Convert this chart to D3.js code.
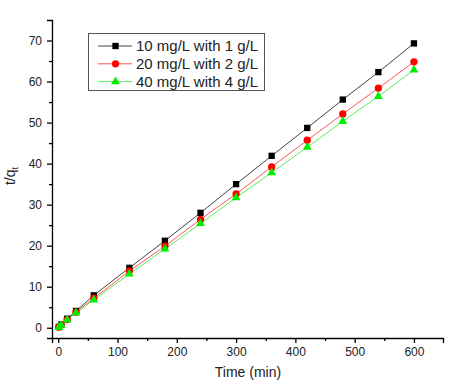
<!DOCTYPE html>
<html>
<head>
<meta charset="utf-8">
<script src="https://cdn.jsdelivr.net/npm/d3@7"></script>
<style>
  body { margin: 0; background: #fff; }
  text { font-family: "Liberation Sans", Arial, sans-serif; fill: #222; }
</style>
</head>
<body>
<div id="chart"></div>
<script>
// data
var times = [1, 5, 15, 30, 60, 120, 180, 240, 300, 360, 420, 480, 540, 600]
var black10 = [0.2, 0.8, 2.2, 4.1, 7.9, 14.6, 21.2, 28.0, 35.0, 41.9, 48.7, 55.6, 62.3, 69.3]
var red20 = [0.15, 0.7, 2.0, 3.8, 7.2, 13.8, 19.9, 26.4, 32.6, 39.2, 45.7, 52.1, 58.4, 64.8]
var green40 = [0.1, 0.6, 1.9, 3.6, 6.8, 13.1, 19.2, 25.4, 31.7, 37.8, 44.0, 50.3, 56.4, 62.8]
var seriesNames = ["10 mg/L with 1 g/L", "20 mg/L with 2 g/L", "40 mg/L with 4 g/L"]
var xTicks = [0, 100, 200, 300, 400, 500, 600]
var yTicks = [0, 10, 20, 30, 40, 50, 60, 70]

const width = 474, height = 389
const margin = {top: 20, right: 31, bottom: 51, left: 52}

var svg = d3.select("#chart")
  .append("svg")
  .attr("width", width)
  .attr("height", height)

var x = d3.scaleLinear()
  .domain([-10.5, 649])
  .range([margin.left, width - margin.right])

var y = d3.scaleLinear()
  .domain([-2.5, 75])
  .range([height - margin.bottom, margin.top])

// minor ticks
svg.append("g")
  .attr("transform", "translate(0," + (height - margin.bottom) + ")")
  .call(d3.axisBottom(x).tickValues(d3.range(50, 650, 100)).tickSize(3).tickFormat(""))
  .call(g => g.select(".domain").remove())

svg.append("g")
  .attr("transform", "translate(" + margin.left + ",0)")
  .call(d3.axisLeft(y).tickValues(d3.range(5, 75, 10)).tickSize(3).tickFormat(""))
  .call(g => g.select(".domain").remove())

// x axis
svg.append("g")
  .attr("transform", "translate(0," + (height - margin.bottom) + ")")
  .call(d3.axisBottom(x).tickValues(xTicks).tickSize(5).tickSizeOuter(5).tickPadding(4))
  .call(g => g.selectAll("text").style("font-size", "12px"))

// y axis
svg.append("g")
  .attr("transform", "translate(" + margin.left + ",0)")
  .call(d3.axisLeft(y).tickValues(yTicks).tickSize(5).tickSizeOuter(5).tickPadding(5))
  .call(g => g.selectAll("text").style("font-size", "12px"))

svg.selectAll(".domain, .tick line").attr("stroke", "#000").attr("stroke-width", 1.3)

// axis titles
svg.append("text")
  .attr("x", 248)
  .attr("y", 377)
  .attr("text-anchor", "middle")
  .style("font-size", "14px")
  .text("Time (min)")

var ylab = svg.append("text")
  .attr("transform", "translate(15,176) rotate(-90)")
  .attr("text-anchor", "middle")
  .style("font-size", "14px")
ylab.append("tspan").text("t/q")
ylab.append("tspan").attr("dy", 3).style("font-size", "9px").text("t")

var series = [
  {name: seriesNames[0], values: black10, color: "#000000", line: "#444444", shape: d3.symbolSquare, size: 40},
  {name: seriesNames[1], values: red20, color: "#ff0000", line: "#ff5555", shape: d3.symbolCircle, size: 42},
  {name: seriesNames[2], values: green40, color: "#00ee00", line: "#55ee55", shape: d3.symbolTriangle, size: 34}
]

var line = d3.line()
  .x((d, i) => x(times[i]))
  .y(d => y(d))

series.forEach(function(s) {
  svg.append("path")
    .datum(s.values)
    .attr("fill", "none")
    .attr("stroke", s.line)
    .attr("stroke-width", 1)
    .attr("d", line)
})

series.forEach(function(s) {
  svg.selectAll(null)
    .data(s.values)
    .enter()
    .append("path")
    .attr("d", d3.symbol().type(s.shape).size(s.size))
    .attr("transform", (d, i) => "translate(" + x(times[i]) + "," + y(d) + ")")
    .attr("fill", s.color)
})

// legend
var legend = svg.append("g")
legend.append("rect")
  .attr("x", 88.5).attr("y", 33.5)
  .attr("width", 176).attr("height", 57)
  .attr("fill", "#fff").attr("stroke", "#555").attr("stroke-width", 1)

series.forEach(function(s, i) {
  var cy = 46 + i * 17.8
  legend.append("line")
    .attr("x1", 98).attr("x2", 132)
    .attr("y1", cy).attr("y2", cy)
    .attr("stroke", s.line)
  legend.append("path")
    .attr("d", d3.symbol().type(s.shape).size(s.size))
    .attr("transform", "translate(115.5," + cy + ")")
    .attr("fill", s.color)
  legend.append("text")
    .attr("x", 136).attr("y", cy + 5)
    .style("font-size", "15px")
    .text(s.name)
})
</script>
</body>
</html>
